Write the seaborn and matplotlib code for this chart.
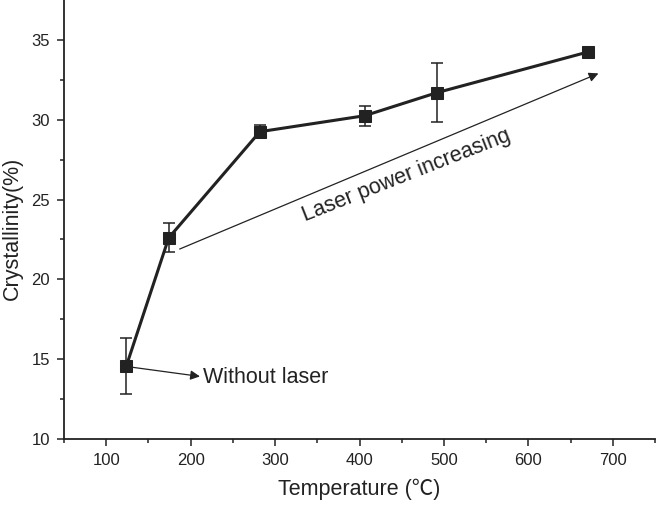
import numpy as np
import pandas as pd
import seaborn as sns
import matplotlib.pyplot as plt

# data
temperature = [124, 174, 282, 406, 492, 671]
crystallinity = [14.6, 22.6, 29.25, 30.25, 31.7, 34.25]
error = [1.75, 0.9, 0.4, 0.63, 1.83, 0.1]

sns.set_style("ticks")
plt.rcParams["font.family"] = ["Liberation Sans", "Noto Sans CJK SC", "DejaVu Sans"]

df = pd.DataFrame({"Temperature": temperature, "Crystallinity": crystallinity, "err": error})

fig = plt.figure(figsize=(6.56, 5.05), dpi=100)
ax = fig.add_axes([64 / 656, 66 / 505, 591 / 656, 439 / 505])

ax.errorbar(df["Temperature"], df["Crystallinity"], yerr=df["err"], fmt="none",
            ecolor="#222222", elinewidth=1.1, capsize=4, capthick=1.1, zorder=2)
sns.lineplot(data=df, x="Temperature", y="Crystallinity", ax=ax, color="#222222",
             linewidth=2.2, marker="s", markersize=8, markeredgecolor="#222222",
             zorder=3)

# annotations
ax.annotate("", xy=(683, 32.9), xytext=(187, 21.9),
            arrowprops=dict(arrowstyle="-|>", color="#222222", lw=0.9,
                            mutation_scale=14, shrinkA=0, shrinkB=0))
ax.text(455, 26.5, "Laser power increasing", rotation=21.5, ha="center",
        va="center", fontsize=15.5, color="#222222", rotation_mode="anchor")
ax.annotate("", xy=(211, 13.92), xytext=(130, 14.5),
            arrowprops=dict(arrowstyle="-|>", color="#222222", lw=0.9,
                            mutation_scale=14, shrinkA=0, shrinkB=0))
ax.text(215, 13.85, "Without laser", ha="left", va="center", fontsize=15.5,
        color="#222222")

ax.set_xlim(50, 750)
ax.set_ylim(10, 37.5)
ax.set_xticks([100, 200, 300, 400, 500, 600, 700])
ax.set_xticks(np.arange(50, 751, 100), minor=True)
ax.set_yticks([10, 15, 20, 25, 30, 35])
ax.set_yticks([12.5, 17.5, 22.5, 27.5, 32.5], minor=True)
ax.tick_params(which="major", length=5, width=1.1, labelsize=12, pad=5,
               colors="#222222")
ax.tick_params(which="minor", length=3, width=1.1, colors="#222222")

ax.set_xlabel("Temperature (℃)", fontsize=15.5, color="#222222", labelpad=8)
ax.set_ylabel("Crystallinity(%)", fontsize=15.5, color="#222222")
ax.yaxis.set_label_coords(-0.07, 0.48)

sns.despine(ax=ax)
for s in ["left", "bottom"]:
    ax.spines[s].set_linewidth(1.3)
    ax.spines[s].set_color("#222222")

fig.savefig("out.png", dpi=100)
